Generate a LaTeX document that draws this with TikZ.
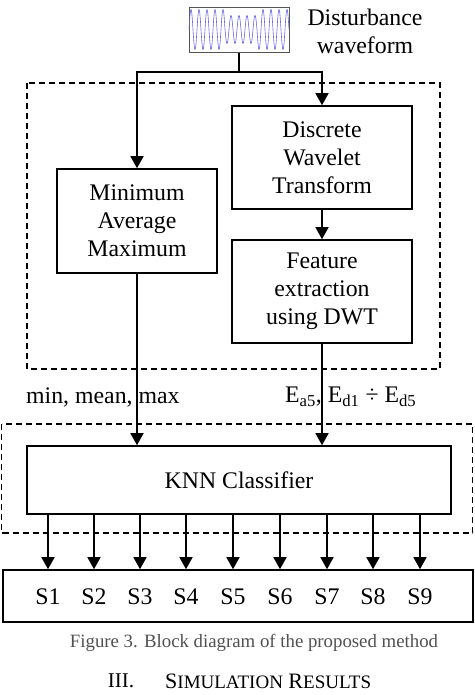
\documentclass[tikz,border=0pt]{standalone}
\usepackage{fontspec}
\setmainfont{Liberation Serif}
\usetikzlibrary{arrows.meta}
\definecolor{WaveBlue}{HTML}{6666DD}
\definecolor{WaveFrame}{HTML}{555555}
\definecolor{CaptionGray}{HTML}{505050}
\tikzset{
    block/.style={rectangle, draw, line width=1.6pt, inner sep=0, align=center,
                  font=\fontsize{23.8}{28}\selectfont},
    wavebox/.style={rectangle, draw=WaveFrame, line width=1pt, inner sep=0,
                    minimum width=100pt, minimum height=45pt},
    group/.style={draw, line width=1.4pt, dash pattern=on 6pt off 4pt},
    link/.style={line width=1.6pt, -{Triangle[width=13pt,length=12pt]}},
    wire/.style={line width=1.6pt},
    labelstyle/.style={anchor=west, inner sep=0, font=\fontsize{23.8}{28}\selectfont},
    outstyle/.style={anchor=center, inner sep=0, font=\fontsize{23.8}{28}\selectfont},
    wave/.style={draw=WaveBlue, line width=0.6pt},
}
\begin{document}
\begin{tikzpicture}[x=1pt, y=-1pt]
        \useasboundingbox (0,0) rectangle (474,695);
        % Input waveform
        \node[wavebox] (B0c1) at (239,30.5) {};
        \draw[wave] plot[domain=0:36, samples=150] ({189+\x},{29.5-20*sin(45*\x)});
        \draw[wave] plot[domain=36:68, samples=150] ({189+\x},{29.5-14*sin(45*\x)});
        \draw[wave] plot[domain=68:100, samples=150] ({189+\x},{29.5-20*sin(45*\x)});
        \node[align=center, inner sep=0, font=\fontsize{23.8}{28}\selectfont] (B0c2) at (365,31) {Disturbance\\waveform};
        %
        % Feature blocks
        \node[block, minimum width=160pt, minimum height=104pt] (B1c1) at (137,221) {Minimum\\Average\\Maximum};
        \node[block, minimum width=180pt, minimum height=103pt] (B1c2) at (322,157.5) {Discrete\\Wavelet\\Transform};
        \node[block, minimum width=180pt, minimum height=103pt] (B2c2) at (322,291.5) {Feature\\extraction\\using DWT};
        \draw[group] (27,83) rectangle (440,369);
        %
        % Classifier
        \node[block, minimum width=424pt, minimum height=68pt] (B3c1) at (239,480) {KNN Classifier};
        \draw[group] (1.5,424) rectangle (472.5,533);
        \node[labelstyle] (L1) at (26,397) {min, mean, max};
        \node[labelstyle] (L2) at (285,397) {E\textsubscript{a5}, E\textsubscript{d1} ÷ E\textsubscript{d5}};
        %
        % Output classes
        \node[block, minimum width=470pt, minimum height=52pt] (B4c1) at (238,596) {};
        \node[outstyle] (S1) at (48,597) {S1};
        \node[outstyle] (S2) at (94,597) {S2};
        \node[outstyle] (S3) at (140,597) {S3};
        \node[outstyle] (S4) at (186,597) {S4};
        \node[outstyle] (S5) at (233,597) {S5};
        \node[outstyle] (S6) at (280,597) {S6};
        \node[outstyle] (S7) at (327,597) {S7};
        \node[outstyle] (S8) at (373,597) {S8};
        \node[outstyle] (S9) at (420,597) {S9};
        %
        % Connections
        \coordinate (T0) at (239,72);
        \draw[wire] (B0c1.south) -- (T0);
        \draw[link] (T0) -| (B1c1.north);
        \draw[link] (T0) -| (B1c2.north);
        \draw[link] (B1c2) -- (B2c2);
        \draw[link] (B1c1) -- (B1c1 |- B3c1.north);
        \draw[link] (B2c2) -- (B2c2 |- B3c1.north);
        \draw[link] (S1 |- B3c1.south) -- (S1 |- B4c1.north);
        \draw[link] (S2 |- B3c1.south) -- (S2 |- B4c1.north);
        \draw[link] (S3 |- B3c1.south) -- (S3 |- B4c1.north);
        \draw[link] (S4 |- B3c1.south) -- (S4 |- B4c1.north);
        \draw[link] (S5 |- B3c1.south) -- (S5 |- B4c1.north);
        \draw[link] (S6 |- B3c1.south) -- (S6 |- B4c1.north);
        \draw[link] (S7 |- B3c1.south) -- (S7 |- B4c1.north);
        \draw[link] (S8 |- B3c1.south) -- (S8 |- B4c1.north);
        \draw[link] (S9 |- B3c1.south) -- (S9 |- B4c1.north);
        %
        % Caption and heading
        \node[inner sep=0, text=CaptionGray, font=\fontsize{18.8}{21}\selectfont] (C1) at (254,643) {Figure 3. Block diagram of the proposed method};
        \node[inner sep=0, font=\fontsize{21}{24}\selectfont] (H1) at (121,681) {III.};
        \node[anchor=west, inner sep=0, font=\fontsize{22}{24}\selectfont] (H2) at (165,681) {S{\fontsize{19}{24}\selectfont IMULATION} R{\fontsize{19}{24}\selectfont ESULTS}};
\end{tikzpicture}
\end{document}
